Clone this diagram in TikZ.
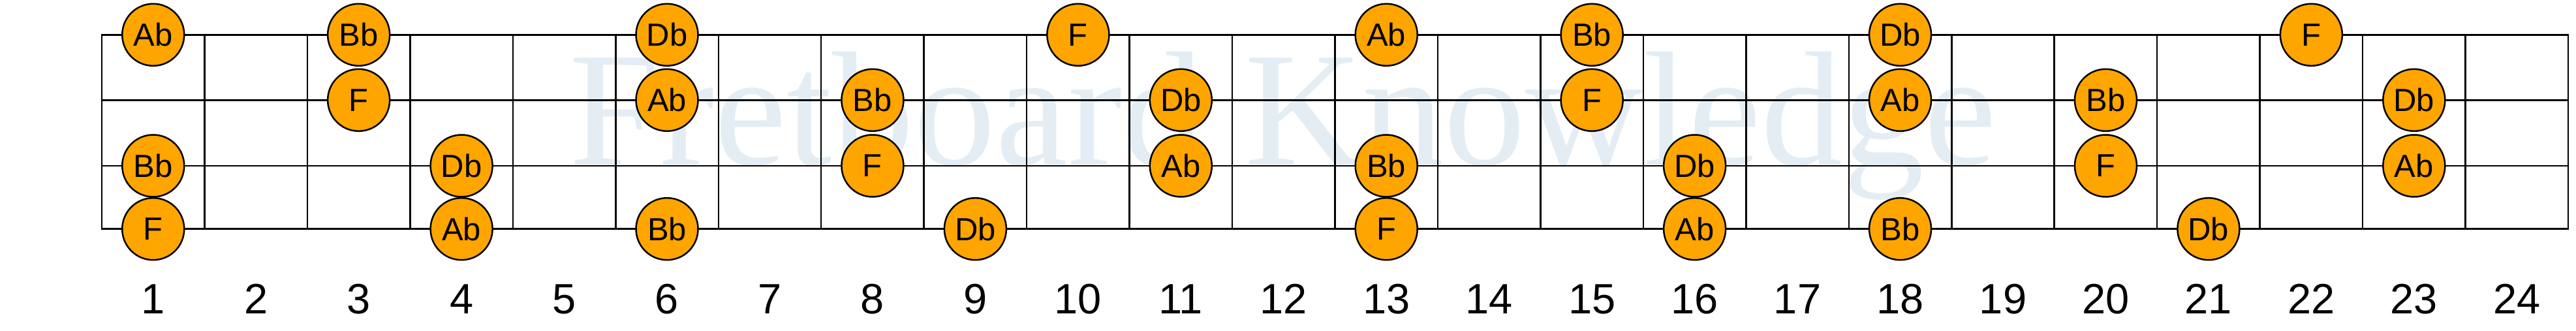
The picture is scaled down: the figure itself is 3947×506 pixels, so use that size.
\documentclass[tikz,border=0pt]{standalone}
\usepackage{fontspec}
\setmainfont{Liberation Sans}
\newfontfamily\wmfont{Liberation Serif}
\definecolor{noteorange}{RGB}{255,165,0}
\definecolor{wmblue}{RGB}{228,237,243}
\begin{document}
\begin{tikzpicture}[x=1pt,y=-1pt,
  note/.style={circle,draw=black,line width=2.5pt,fill=noteorange,minimum size=95pt,inner sep=0pt,font=\fontsize{49}{49}\selectfont},
  fretnum/.style={anchor=base,inner sep=0pt,font=\fontsize{65}{65}\selectfont},
  gridline/.style={line width=2.5pt,draw=black},
  watermark/.style={anchor=base,inner sep=0pt,text=wmblue,font=\wmfont\fontsize{250}{250}\selectfont}]
\useasboundingbox (0,0) rectangle (3947,506);
% watermark
\node[watermark] (wm) at (1966,252) {Fretboard Knowledge};
% strings
\foreach \y in {153.3,254} \draw[gridline] (156,\y) -- (3935,\y);
% frets
\foreach \i in {1,...,23} \draw[gridline] ({156+\i*157.458},53.3) -- ({156+\i*157.458},350.7);
% frame
\draw[gridline] (156,53.3) rectangle (3935,350.7);
% fret numbers
\foreach \i in {1,...,24} \node[fretnum] (num\i) at ({156+(\i-0.5)*157.458},480) {\i};
% notes
\foreach \f/\y/\n in {
 1/53.3/Ab, 1/254/Bb, 1/350.7/F,
 3/53.3/Bb, 3/153.3/F,
 4/254/Db, 4/350.7/Ab,
 6/53.3/Db, 6/153.3/Ab, 6/350.7/Bb,
 8/153.3/Bb, 8/254/F,
 9/350.7/Db,
 10/53.3/F,
 11/153.3/Db, 11/254/Ab,
 13/53.3/Ab, 13/254/Bb, 13/350.7/F,
 15/53.3/Bb, 15/153.3/F,
 16/254/Db, 16/350.7/Ab,
 18/53.3/Db, 18/153.3/Ab, 18/350.7/Bb,
 20/153.3/Bb, 20/254/F,
 21/350.7/Db,
 22/53.3/F,
 23/153.3/Db, 23/254/Ab}
 \node[note] (note-\f-\n) at ({156+(\f-0.5)*157.458},\y) {\n};
\end{tikzpicture}
\end{document}
